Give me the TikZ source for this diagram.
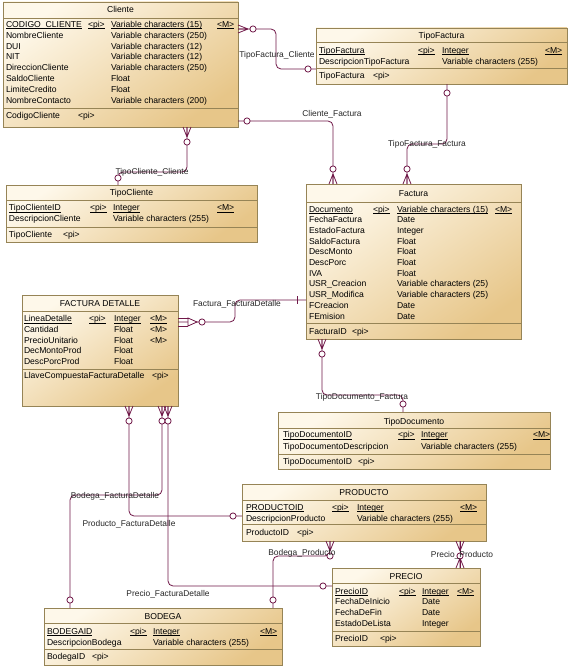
\documentclass[tikz,border=0pt]{standalone}
\usepackage{fontspec}
\setmainfont{Liberation Sans}
\definecolor{conncol}{RGB}{112,24,72}
\definecolor{bordcol}{RGB}{150,132,86}
\definecolor{filltop}{RGB}{254,248,234}
\definecolor{fillbot}{RGB}{231,198,137}
\newcommand\pkul[1]{\leavevmode\setbox0\hbox{#1}\rlap{\rule[-1.6pt]{\wd0}{0.6pt}}\box0}
\newcounter{cellno}
\newcommand\cell[3]{\stepcounter{cellno}\node[cell] (cell\arabic{cellno}) at (#1,#2) {#3};}
\newcommand\setcols[4]{\def\colA{#1}\def\colB{#2}\def\colC{#3}\def\colD{#4}}
\newcommand\row[5]{\cell{\colA}{#1}{#2}\ifx&#3&\else\cell{\colB}{#1}{#3}\fi\cell{\colC}{#1}{#4}\ifx&#5&\else\cell{\colD}{#1}{#5}\fi}
\newcommand\entity[7]{%
  \pgfmathsetmacro\ew{#4-#2}\pgfmathsetmacro\eh{#5-#3}%
  \pgfmathsetmacro\ecx{(#2+#4)/2}\pgfmathsetmacro\ecy{(#3+#5)/2}%
  \node[entbox, minimum width=\ew pt, minimum height=\eh pt] (#1) at (\ecx,\ecy) {};
  \node[ttl] (#1-title) at (\ecx,#6) {#7};}
\newcommand\sepl[2]{\draw[sepline] (#1.west |- 0,#2) -- (#1.east |- 0,#2);}
\tikzset{
  entbox/.style={draw=bordcol, line width=0.8pt, top color=filltop, bottom color=fillbot, shading angle=35, inner sep=0pt, outer sep=0pt},
  sepline/.style={draw=bordcol, line width=0.8pt},
  cell/.style={anchor=base west, inner sep=0pt, outer sep=0pt, yshift=-3pt, font=\fontsize{8.6}{10}\selectfont},
  ttl/.style={cell, anchor=base},
  lbl/.style={anchor=base, inner sep=0pt, yshift=-3pt, font=\fontsize{8.4}{10}\selectfont, text=black!85},
  conn/.style={draw=conncol, line width=0.8pt},
  onecirc/.style={circle, draw=conncol, line width=0.8pt, fill=white, minimum size=6.2pt, inner sep=0pt},
  crowfoot/.pic={\draw[conn] (0,-4)--(10,0) (0,4)--(10,0) (0,0)--(10,0); \draw[conn,fill=white] (15,0) circle[radius=3.1pt];},
  crowonly/.pic={\draw[conn] (0,-4)--(10,0) (0,4)--(10,0) (0,0)--(10,0);}
}
\begin{document}
\begin{tikzpicture}[x=1pt,y=-1pt]
\fill[white] (0,0) rectangle (571,669);
\useasboundingbox (0,0) rectangle (571,669);

% ---------- entities ----------
\entity{cliente}{3}{2}{238}{127}{10}{Cliente}
\sepl{cliente}{18}\sepl{cliente}{108}
\setcols{6}{88}{111}{217}
\row{24.5}{\pkul{CODIGO\_CLIENTE}}{\pkul{<pi>}}{\pkul{Variable characters (15)}}{\pkul{<M>}}
\row{35.3}{NombreCliente}{}{Variable characters (250)}{}
\row{46.1}{DUI}{}{Variable characters (12)}{}
\row{56.9}{NIT}{}{Variable characters (12)}{}
\row{67.7}{DireccionCliente}{}{Variable characters (250)}{}
\row{78.5}{SaldoCliente}{}{Float}{}
\row{89.3}{LimiteCredito}{}{Float}{}
\row{100.1}{NombreContacto}{}{Variable characters (200)}{}
\cell{6}{115.5}{CodigoCliente}\cell{78}{115.5}{<pi>}

\entity{tipofactura}{316}{28}{567}{84}{35}{TipoFactura}
\sepl{tipofactura}{42}\sepl{tipofactura}{68.5}
\setcols{319}{418}{442}{545}
\row{50}{\pkul{TipoFactura}}{\pkul{<pi>}}{\pkul{Integer}}{\pkul{<M>}}
\row{61}{DescripcionTipoFactura}{}{Variable characters (255)}{}
\cell{319}{75.5}{TipoFactura}\cell{373}{75.5}{<pi>}

\entity{tipocliente}{6}{185}{257}{242}{192}{TipoCliente}
\sepl{tipocliente}{200.5}\sepl{tipocliente}{227}
\setcols{9}{90}{113}{217}
\row{207.5}{\pkul{TipoClienteID}}{\pkul{<pi>}}{\pkul{Integer}}{\pkul{<M>}}
\row{218.5}{DescripcionCliente}{}{Variable characters (255)}{}
\cell{9}{234}{TipoCliente}\cell{63}{234}{<pi>}

\entity{factura}{306}{184}{521}{339}{193}{Factura}
\sepl{factura}{202}\sepl{factura}{323}
\setcols{309}{373}{397}{495}
\row{209}{\pkul{Documento}}{\pkul{<pi>}}{\pkul{Variable characters (15)}}{\pkul{<M>}}
\row{219.7}{FechaFactura}{}{Date}{}
\row{230.4}{EstadoFactura}{}{Integer}{}
\row{241.1}{SaldoFactura}{}{Float}{}
\row{251.8}{DescMonto}{}{Float}{}
\row{262.5}{DescPorc}{}{Float}{}
\row{273.2}{IVA}{}{Float}{}
\row{283.9}{USR\_Creacion}{}{Variable characters (25)}{}
\row{294.6}{USR\_Modifica}{}{Variable characters (25)}{}
\row{305.3}{FCreacion}{}{Date}{}
\row{316}{FEmision}{}{Date}{}
\cell{309}{331}{FacturaID}\cell{352}{331}{<pi>}

\entity{fd}{22}{295}{178}{406}{303}{FACTURA DETALLE}
\sepl{fd}{311.5}\sepl{fd}{369}
\setcols{24}{89}{114}{150}
\row{318.5}{\pkul{LineaDetalle}}{\pkul{<pi>}}{\pkul{Integer}}{\pkul{<M>}}
\row{329.3}{Cantidad}{}{Float}{<M>}
\row{340.1}{PrecioUnitario}{}{Float}{<M>}
\row{350.9}{DecMontoProd}{}{Float}{}
\row{361.7}{DescPorcProd}{}{Float}{}
\cell{24}{375.5}{LlaveCompuestaFacturaDetalle}\cell{152}{375.5}{<pi>}

\entity{tipodocumento}{278}{412}{550}{469}{421}{TipoDocumento}
\sepl{tipodocumento}{428}\sepl{tipodocumento}{454}
\setcols{283}{398}{421}{533}
\row{434.5}{\pkul{TipoDocumentoID}}{\pkul{<pi>}}{\pkul{Integer}}{\pkul{<M>}}
\row{446}{TipoDocumentoDescripcion}{}{Variable characters (255)}{}
\cell{283}{461}{TipoDocumentoID}\cell{358}{461}{<pi>}

\entity{producto}{242}{484}{486}{541}{492}{PRODUCTO}
\sepl{producto}{500}\sepl{producto}{524.5}
\setcols{246}{332}{357}{460}
\row{507}{\pkul{PRODUCTOID}}{\pkul{<pi>}}{\pkul{Integer}}{\pkul{<M>}}
\row{518}{DescripcionProducto}{}{Variable characters (255)}{}
\cell{246}{532}{ProductoID}\cell{297}{532}{<pi>}

\entity{precio}{332}{568}{480}{646}{576}{PRECIO}
\sepl{precio}{583.5}\sepl{precio}{631}
\setcols{335}{399}{422}{457}
\row{591}{\pkul{PrecioID}}{\pkul{<pi>}}{\pkul{Integer}}{\pkul{<M>}}
\row{601.5}{FechaDeInicio}{}{Date}{}
\row{612}{FechaDeFin}{}{Date}{}
\row{623}{EstadoDeLista}{}{Integer}{}
\cell{335}{638}{PrecioID}\cell{380}{638}{<pi>}

\entity{bodega}{44}{608}{282}{665}{616}{BODEGA}
\sepl{bodega}{623}\sepl{bodega}{649}
\setcols{47}{130}{153}{260}
\row{631}{\pkul{BODEGAID}}{\pkul{<pi>}}{\pkul{Integer}}{\pkul{<M>}}
\row{642}{DescripcionBodega}{}{Variable characters (255)}{}
\cell{47}{656}{BodegaID}\cell{92}{656}{<pi>}

% ---------- connectors ----------
% TipoFactura_Cliente
\draw[conn, rounded corners=5pt] (cliente.east |- 0,29) -- (276,29) -- (276,69) -- (tipofactura.west |- 0,69);
\pic (cf1) at (cliente.east |- 0,29) {crowfoot};
\node[onecirc] (oc1) at (308,69) {};
\node[lbl] (lb1) at (277,54) {TipoFactura\_Cliente};

% Cliente_Factura
\draw[conn, rounded corners=5pt] (cliente.east |- 0,121) -- (333,121) -- (factura.north -| 333,0);
\node[onecirc] (oc2) at (247,121) {};
\pic[rotate=90] (cf2) at (factura.north -| 333,0) {crowfoot};
\node[lbl] (lb2) at (332,113) {Cliente\_Factura};

% TipoFactura_Factura
\draw[conn, rounded corners=5pt] (tipofactura.south -| 447,0) -- (447,144) -- (407,144) -- (factura.north -| 407,0);
\node[onecirc] (oc3) at (447,93) {};
\pic[rotate=90] (cf3) at (factura.north -| 407,0) {crowfoot};
\node[lbl] (lb3) at (427,143) {TipoFactura\_Factura};

% TipoCliente_Cliente
\draw[conn, rounded corners=5pt] (cliente.south -| 187,0) -- (187,172) -- (118,172) -- (tipocliente.north -| 118,0);
\pic[rotate=-90] (cf4) at (cliente.south -| 187,0) {crowfoot};
\node[onecirc] (oc4) at (118,178) {};
\node[lbl] (lb4) at (152,171) {TipoCliente\_Cliente};

% Factura_FacturaDetalle
\draw[conn, rounded corners=5pt] (fd.east |- 0,322) -- (235,322) -- (235,300) -- (factura.west |- 0,300);
\draw[conn] (fd.east |- 0,318) -- ++(10,0) (fd.east |- 0,326) -- ++(10,0);
\draw[conn, fill=white] (188,318) -- (197,322) -- (188,326) -- cycle;
\node[onecirc] (oc5) at (202,322) {};
\draw[conn] (297,296) -- (297,304);
\node[lbl] (lb5) at (237,303) {Factura\_FacturaDetalle};

% TipoDocumento_Factura
\draw[conn, rounded corners=5pt] (factura.south -| 322,0) -- (322,395) -- (403,395) -- (tipodocumento.north -| 403,0);
\pic[rotate=-90] (cf6) at (factura.south -| 322,0) {crowfoot};
\node[onecirc] (oc6) at (403,404) {};
\node[lbl] (lb6) at (362,396) {TipoDocumento\_Factura};

% Producto_FacturaDetalle
\draw[conn, rounded corners=5pt] (fd.south -| 129,0) -- (129,516) -- (producto.west |- 0,516);
\pic[rotate=-90] (cf7) at (fd.south -| 129,0) {crowfoot};
\node[onecirc] (oc7) at (233,516) {};
\node[lbl] (lb7) at (129,523) {Producto\_FacturaDetalle};

% Bodega_FacturaDetalle
\draw[conn, rounded corners=5pt] (fd.south -| 162,0) -- (162,495) -- (70,495) -- (bodega.north -| 70,0);
\pic[rotate=-90] (cf8) at (fd.south -| 162,0) {crowfoot};
\node[onecirc] (oc8) at (70,600) {};
\node[lbl] (lb8) at (115,495) {Bodega\_FacturaDetalle};

% Precio_FacturaDetalle
\draw[conn, rounded corners=5pt] (fd.south -| 168,0) -- (168,586) -- (precio.west |- 0,586);
\pic[rotate=-90] (cf9) at (fd.south -| 168,0) {crowfoot};
\node[onecirc] (oc9) at (323,586) {};
\node[lbl] (lb9) at (168,593) {Precio\_FacturaDetalle};

% Bodega_Producto
\draw[conn, rounded corners=5pt] (producto.south -| 330,0) -- (330,556) -- (273,556) -- (bodega.north -| 273,0);
\pic[rotate=-90] (cf10) at (producto.south -| 330,0) {crowfoot};
\node[onecirc] (oc10) at (273,600) {};
\node[lbl] (lb10) at (302,552) {Bodega\_Producto};

% Precio_Producto
\draw[conn] (producto.south -| 460,0) -- (precio.north -| 460,0);
\pic[rotate=-90] (cf11) at (producto.south -| 460,0) {crowfoot};
\pic[rotate=90] (cf12) at (precio.north -| 460,0) {crowonly};
\node[lbl] (lb11) at (462,554) {Precio\_Producto};
\end{tikzpicture}
\end{document}
